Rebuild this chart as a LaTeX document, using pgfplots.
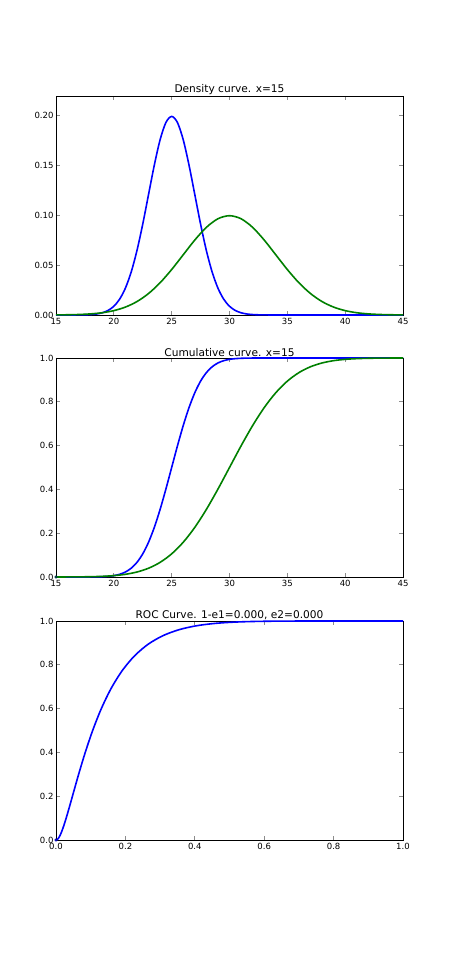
\documentclass[border=0pt]{standalone}
\usepackage{fontspec}
\setmainfont{DejaVu Sans}
\usepackage{pgfplots}
\pgfplotsset{compat=1.18}
\definecolor{mplblue}{RGB}{0,0,255}
\definecolor{mplgreen}{RGB}{0,128,0}

\pgfplotsset{
  panel/.style={
    scale only axis, width=347pt, height=219pt, anchor=south west,
    axis line style={black, line width=0.9pt},
    tick align=inside, major tick length=4pt,
    tick style={black!45, line width=0.8pt},
    ticklabel style={font=\fontsize{8.5}{10}\selectfont},
    /pgf/number format/assume math mode=true,
    title style={font=\fontsize{10.6}{12}\selectfont, yshift=-8pt},
    xticklabel style={yshift=0.5pt},
    yticklabel style={xshift=1pt},
    clip=false,
  },
  prec/.style={
    /pgf/number format/fixed,
    /pgf/number format/fixed zerofill,
    /pgf/number format/precision=#1,
  },
  curve/.style={line width=1.6pt, line join=round},
}

\begin{document}
\begin{tikzpicture}[x=1pt,y=1pt]
\path[fill=white, use as bounding box] (0,0) rectangle (448,960);

% density
\begin{axis}[panel, at={(56pt,645pt)},
  title={Density curve. x=15},
  xmin=15, xmax=45, ymin=0, ymax=0.22,
  xtick={15,20,...,45}, ytick={0,0.05,0.1,0.15,0.2},
  yticklabel style={prec=2},
]
\addplot[curve, mplblue, smooth] coordinates {
(15,0) (16,0.000001) (17,0.000067) (17.5,0.00018) (18,0.00044) (18.5,0.00101)
(19,0.002216) (19.5,0.004547) (20,0.008764) (20.5,0.01587) (21,0.02700)
(21.5,0.04314) (22,0.06476) (22.5,0.09132) (23,0.12099) (23.5,0.15057)
(24,0.17603) (24.5,0.19333) (25,0.19947) (25.5,0.19333) (26,0.17603)
(26.5,0.15057) (27,0.12099) (27.5,0.09132) (28,0.06476) (28.5,0.04314)
(29,0.02700) (29.5,0.01587) (30,0.008764) (30.5,0.004547) (31,0.002216)
(31.5,0.00101) (32,0.00044) (32.5,0.00018) (33,0.000067) (34,0.000008)
(35,0) (40,0) (45,0)};
\addplot[curve, mplgreen, smooth] coordinates {
(15,0.000088) (16,0.000218) (17,0.000507) (18,0.001108) (19,0.002273)
(20,0.004382) (21,0.007935) (22,0.013499) (23,0.021571) (24,0.032380)
(25,0.045664) (26,0.060496) (27,0.075289) (28,0.088022) (29,0.096672)
(30,0.099736) (31,0.096672) (32,0.088022) (33,0.075289) (34,0.060496)
(35,0.045664) (36,0.032380) (37,0.021571) (38,0.013499) (39,0.007935)
(40,0.004382) (41,0.002273) (42,0.001108) (43,0.000507) (44,0.000218)
(45,0.000088)};
\end{axis}

% cumulative
\begin{axis}[panel, at={(56pt,383pt)},
  title={Cumulative curve. x=15},
  xmin=15, xmax=45, ymin=0, ymax=1,
  xtick={15,20,...,45}, ytick={0,0.2,0.4,0.6,0.8,1.0},
  yticklabel style={prec=1},
]
\addplot[curve, mplblue, smooth] coordinates {
(15,0) (16,0.000001) (17,0.000032) (17.5,0.000088) (18,0.000233) (18.5,0.000577)
(19,0.00135) (19.5,0.00298) (20,0.00621) (20.5,0.01222) (21,0.02275)
(21.5,0.04006) (22,0.06681) (22.5,0.10565) (23,0.15866) (23.5,0.22663)
(24,0.30854) (24.5,0.40129) (25,0.5) (25.5,0.59871) (26,0.69146)
(26.5,0.77337) (27,0.84134) (27.5,0.89435) (28,0.93319) (28.5,0.95994)
(29,0.97725) (29.5,0.98778) (30,0.99379) (30.5,0.99702) (31,0.99865)
(31.5,0.99942) (32,0.99977) (33,0.99997) (35,1) (40,1) (45,1)};
\addplot[curve, mplgreen, smooth] coordinates {
(15,0.000088) (16,0.000233) (17,0.000577) (18,0.00135) (19,0.00298)
(20,0.00621) (21,0.01222) (22,0.02275) (23,0.04006) (24,0.06681)
(25,0.10565) (26,0.15866) (27,0.22663) (28,0.30854) (29,0.40129)
(30,0.5) (31,0.59871) (32,0.69146) (33,0.77337) (34,0.84134)
(35,0.89435) (36,0.93319) (37,0.95994) (38,0.97725) (39,0.98778)
(40,0.99379) (41,0.99702) (42,0.99865) (43,0.99942) (44,0.99977)
(45,0.99991)};
\addplot[only marks, mark=*, mark size=1.3pt, mplgreen!60!mplblue!70!black] coordinates {(15,0)};
\end{axis}

% ROC
\begin{axis}[panel, at={(56pt,120pt)},
  title={ROC Curve. 1-e1=0.000, e2=0.000},
  xmin=0, xmax=1, ymin=0, ymax=1,
  xtick={0,0.2,0.4,0.6,0.8,1.0}, ytick={0,0.2,0.4,0.6,0.8,1.0},
  xticklabel style={prec=1}, yticklabel style={prec=1},
]
\addplot[curve, mplblue, smooth] coordinates {
(0,0) (0.000088,0) (0.00135,0.000233) (0.00298,0.00135) (0.00433,0.00298)
(0.00621,0.00621) (0.00877,0.01222) (0.01222,0.02275) (0.01679,0.04006)
(0.02275,0.06681) (0.0304,0.10565) (0.04006,0.15866) (0.05208,0.22663)
(0.06681,0.30854) (0.08457,0.40129) (0.10565,0.5) (0.13029,0.59871)
(0.15866,0.69146) (0.19079,0.77337) (0.22663,0.84134) (0.26599,0.89435)
(0.30854,0.93319) (0.35383,0.95994) (0.40129,0.97725) (0.45026,0.98778)
(0.5,0.99379) (0.54974,0.99702) (0.59871,0.99865) (0.64617,0.99942)
(0.69146,0.99977) (0.77337,0.99997) (0.84134,1) (0.93319,1) (1,1)};
\addplot[only marks, mark=*, mark size=1.3pt, mplblue!70!black] coordinates {(0,0)};
\end{axis}
\end{tikzpicture}
\end{document}
